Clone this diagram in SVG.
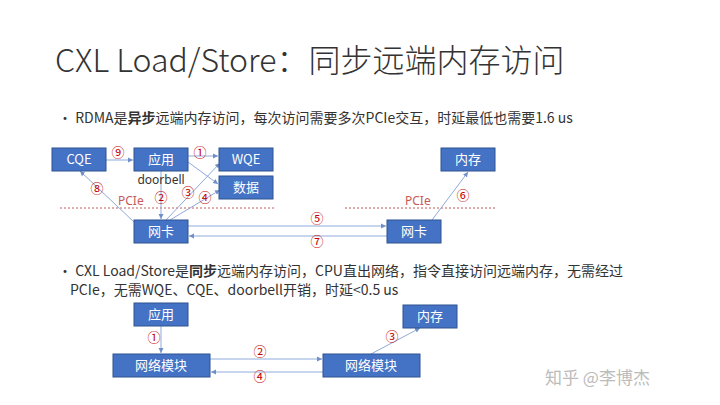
<svg xmlns="http://www.w3.org/2000/svg" width="720" height="405" viewBox="0 0 720 405">
<style>
.b{fill:#4472C4;stroke:#2F528F;stroke-width:1}
.bt{font-family:"Noto Sans CJK SC",sans-serif;font-size:13px;fill:#fff;text-anchor:middle}
.l{stroke:#8FAADC;stroke-width:1;fill:none;marker-end:url(#a)}
.n{font-family:"Noto Sans CJK SC",sans-serif;font-size:13px;fill:#C00000;text-anchor:middle}
.t{font-family:"Noto Sans CJK SC",sans-serif;font-size:14px;fill:#333}
</style>
<defs><marker id="a" markerWidth="6" markerHeight="6" refX="5" refY="3" orient="auto"><path d="M0,0.5 L5,3 L0,5.5z" fill="#6f8fc8"/></marker></defs>
<rect width="720" height="405" fill="#fff"/>
<text x="55" y="72" font-family="Noto Sans CJK SC,sans-serif" font-size="32" fill="#333" font-weight="300">CXL Load/Store：同步远端内存访问</text>
<text class="t" x="58" y="123">•  RDMA是<tspan font-weight="bold">异步</tspan>远端内存访问，每次访问需要多次PCIe交互，时延最低也需要1.6 us</text>
<text class="t" x="58" y="276">•  CXL Load/Store是<tspan font-weight="bold">同步</tspan>远端内存访问，CPU直出网络，指令直接访问远端内存，无需经过</text>
<text class="t" x="70" y="295">PCIe，无需WQE、CQE、doorbell开销，时延&lt;0.5 us</text>
<g stroke="#C55A5A" stroke-dasharray="2,2" stroke-width="1"><line x1="60" y1="208" x2="275" y2="208"/><line x1="345" y1="208" x2="495" y2="208"/></g>
<g id="connectors">
<path class="l" d="M106 160 H133"/>
<path class="l" d="M188 156 H218"/>
<path class="l" d="M188 162 L218 184"/>
<path class="l" d="M161 171 V219"/>
<path class="l" d="M166 220 L220 163"/>
<path class="l" d="M170 220 L220 190"/>
<path class="l" d="M134 222 L80 171"/>
<path class="l" d="M188 226 H386"/>
<path class="l" d="M387 236 H189"/>
<path class="l" d="M432 220 L468 172"/>
<path class="l" d="M161 326 V353"/>
<path class="l" d="M210 359 H322"/>
<path class="l" d="M323 372 H211"/>
<path class="l" d="M371 354 L420 328"/>
</g>
<g class="n">
<text x="118" y="157">⑨</text><text x="200" y="157">①</text><text x="161" y="202">②</text><text x="188" y="197">③</text><text x="205" y="202">④</text><text x="97" y="193">⑧</text><text x="317" y="223">⑤</text><text x="317" y="246">⑦</text><text x="463" y="200">⑥</text>
<text x="154" y="342">①</text><text x="260" y="356">②</text><text x="392" y="341">③</text><text x="260" y="381">④</text>
</g>
<text x="161" y="184" font-family="Noto Sans,sans-serif" font-size="12" fill="#333" text-anchor="middle">doorbell</text>
<text x="118" y="205" font-family="Noto Sans,sans-serif" font-size="12" fill="#C55A5A">PCIe</text>
<text x="405" y="205" font-family="Noto Sans,sans-serif" font-size="12" fill="#C55A5A">PCIe</text>
<g id="cqe"><rect class="b" x="52" y="148" width="54" height="23"/><text class="bt" x="79" y="164">CQE</text></g>
<g id="app1"><rect class="b" x="134" y="148" width="54" height="23"/><text class="bt" x="161" y="164">应用</text></g>
<g id="wqe"><rect class="b" x="219" y="148" width="54" height="23"/><text class="bt" x="246" y="164">WQE</text></g>
<g id="data"><rect class="b" x="219" y="176" width="54" height="23"/><text class="bt" x="246" y="192">数据</text></g>
<g id="nic1"><rect class="b" x="134" y="220" width="54" height="23"/><text class="bt" x="161" y="236">网卡</text></g>
<g id="mem1"><rect class="b" x="441" y="148" width="54" height="23"/><text class="bt" x="468" y="164">内存</text></g>
<g id="nic2"><rect class="b" x="387" y="220" width="54" height="23"/><text class="bt" x="414" y="236">网卡</text></g>
<g id="app2"><rect class="b" x="134" y="303" width="54" height="23"/><text class="bt" x="161" y="319">应用</text></g>
<g id="net1"><rect class="b" x="113" y="354" width="97" height="23"/><text class="bt" x="161" y="370">网络模块</text></g>
<g id="net2"><rect class="b" x="323" y="354" width="97" height="23"/><text class="bt" x="371" y="370">网络模块</text></g>
<g id="mem2"><rect class="b" x="403" y="305" width="54" height="23"/><text class="bt" x="430" y="321">内存</text></g>
<text x="545" y="384" font-family="Noto Sans CJK SC,sans-serif" font-size="17" fill="#bbb">知乎 @李博杰</text>
</svg>
